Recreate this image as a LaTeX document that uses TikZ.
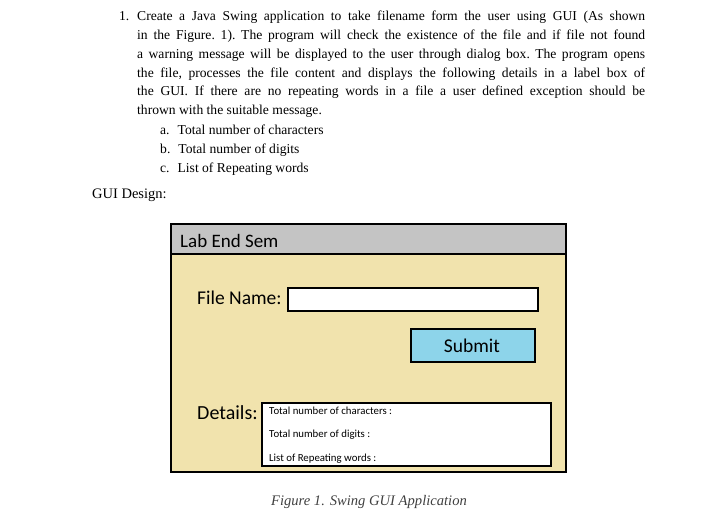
\documentclass[tikz,border=0pt]{standalone}
\usepackage{fontspec}
\setmainfont{Liberation Serif}
\newfontfamily\calfont{Carlito}
\definecolor{panel}{HTML}{F1E3AD}
\definecolor{bar}{HTML}{C4C4C4}
\definecolor{btn}{HTML}{8DD4EA}
\tikzset{box/.style={draw=black,line width=2pt}, gui/.style={font=\calfont, inner sep=0pt, anchor=west}}
\begin{document}
\begin{tikzpicture}[x=1pt,y=-1pt]
\useasboundingbox (0,0) rectangle (724,522);
\node[anchor=north west,inner sep=0pt,text width=508pt,align=justify,font=\fontsize{13.6}{18.8}\selectfont\frenchspacing] (para) at (137,11)
{\hyphenpenalty=10000\tolerance=10000\relax\llap{1.\hspace{8pt}}Create a Java Swing application to take filename form the user using GUI (As shown\linebreak in the Figure. 1). The program will check the existence of the file and if file not found\linebreak a warning message will be displayed to the user through dialog box. The program opens\linebreak the file, processes the file content and displays the following details in a label box of\linebreak the GUI. If there are no repeating words in a file a user defined exception should be\linebreak thrown with the suitable message.\par\vspace{1pt}
\hspace*{23pt}a.\hspace{8pt}Total number of characters\par
\hspace*{23pt}b.\hspace{8pt}Total number of digits\par
\hspace*{23pt}c.\hspace{8pt}List of Repeating words\par};
\node[anchor=west,inner sep=0pt,font=\fontsize{14.5}{16}\selectfont] (gd) at (92,195) {GUI Design:};
\fill[panel] (171,224) rectangle (566,472);
\draw[box,fill=bar] (171,224) rectangle (566,254);
\draw[box] (171,224) rectangle (566,472);
\node[gui,font=\calfont\fontsize{19}{20}\selectfont] (title) at (180,241) {Lab End Sem};
\node[gui,font=\calfont\fontsize{19.5}{20}\selectfont] (fn) at (197,298) {File Name:};
\draw[box,fill=white] (288,288) rectangle (538,311);
\draw[box,fill=btn] (411,329) rectangle (535,362);
\node[font=\calfont\fontsize{19.5}{20}\selectfont,inner sep=0pt] (sub) at (472,346) {Submit};
\node[gui,font=\calfont\fontsize{20}{21}\selectfont] (det) at (197,413) {Details:};
\draw[box,fill=white] (262,403) rectangle (551,466);
\node[gui,font=\calfont\fontsize{10.8}{12}\selectfont] (l1) at (269,411) {Total number of characters :};
\node[gui,font=\calfont\fontsize{10.8}{12}\selectfont] (l2) at (269,435) {Total number of digits :};
\node[gui,font=\calfont\fontsize{10.8}{12}\selectfont] (l3) at (269,459) {List of Repeating words :};
\node[font=\itshape\fontsize{14.6}{16}\selectfont,text=black!75] (cap) at (369,502) {Figure 1. Swing GUI Application};
\end{tikzpicture}
\end{document}
